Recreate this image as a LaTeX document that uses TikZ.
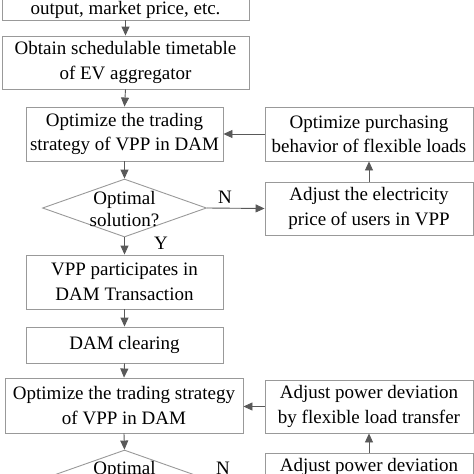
\documentclass[tikz,border=0pt]{standalone}
\usepackage{fontspec}
\setmainfont{Liberation Serif}
\usetikzlibrary{arrows.meta,shapes.geometric}
\begin{document}
\begin{tikzpicture}[x=1pt,y=-1pt,
  box/.style={draw=black!40,line width=0.9pt,rectangle,inner sep=0pt,align=center,
    font=\fontsize{19}{24.5}\selectfont},
  dshape/.style={draw=black!40,line width=0.9pt,diamond,inner sep=0pt,minimum width=164pt,minimum height=58pt},
  lbl/.style={font=\fontsize{19}{24.5}\selectfont,inner sep=0pt},
  arr/.style={draw=black!65,line width=0.9pt,-{Triangle[length=9pt,width=8pt]}}]
\useasboundingbox (0,0) rectangle (474,474);
\clip (0,0) rectangle (474,474);
% left column
\node[box,minimum width=247pt,minimum height=60pt] (b1) at (125.5,-10) {};
\node[lbl,anchor=base] (t1) at (125.5,14) {output, market price, etc.};
\node[box,minimum width=247pt,minimum height=53pt] (b2) at (125.5,62.5) {Obtain schedulable timetable\\of EV aggregator};
\node[box,minimum width=197pt,minimum height=54pt] (b3) at (124.5,134) {Optimize the trading\\strategy of VPP in DAM};
\node[dshape] (d1) at (124.5,208) {};
\node[lbl,align=center,font=\fontsize{19}{22}\selectfont] (d1t) at (124.5,209) {Optimal\\solution?};
\node[box,minimum width=197pt,minimum height=54pt] (b4) at (124.5,282) {VPP participates in\\DAM Transaction};
\node[box,minimum width=197pt,minimum height=36pt] (b5) at (124.5,345) {DAM clearing};
\node[box,minimum width=238pt,minimum height=55pt] (b6) at (124,405.5) {Optimize the trading strategy\\of VPP in DAM};
\node[dshape] (d2) at (124.5,479) {};
\node[lbl,anchor=base] (d2t) at (124.5,474) {Optimal};
% right column
\node[box,minimum width=208pt,minimum height=54pt] (r1) at (369,134) {Optimize purchasing\\behavior of flexible loads};
\node[box,minimum width=208pt,minimum height=53pt] (r2) at (369,208.5) {Adjust the electricity\\price of users in VPP};
\node[box,minimum width=208pt,minimum height=53pt] (r3) at (369,406.5) {Adjust power deviation\\by flexible load transfer};
\node[box,minimum width=208pt,minimum height=60pt] (r4) at (369,483) {};
\node[lbl,anchor=base] (r4t) at (369,471) {Adjust power deviation};
% labels
\node[lbl] (n1) at (225,197) {N};
\node[lbl] (y1) at (161,243) {Y};
\node[lbl] (n2) at (223,468) {N};
% arrows
\draw[arr] (b1.south) -- (b2.north);
\draw[arr] (b2.south) -- (b3.north);
\draw[arr] (b3.south) -- (d1.north);
\draw[arr] (d1.east) -- (r2.west);
\draw[arr] (r2.north) -- (r1.south);
\draw[arr] (r1.west) -- (b3.east);
\draw[arr] (d1.south) -- (b4.north);
\draw[arr] (b4.south) -- (b5.north);
\draw[arr] (b5.south) -- (b6.north);
\draw[arr] (b6.south) -- (d2.north);
\draw[arr] (r3.west) -- (b6.east |- r3.west);
\draw[arr] (r4.north) -- (r3.south);
\draw[arr] (d2.east) -- (r4.west |- d2.east);
\end{tikzpicture}
\end{document}
